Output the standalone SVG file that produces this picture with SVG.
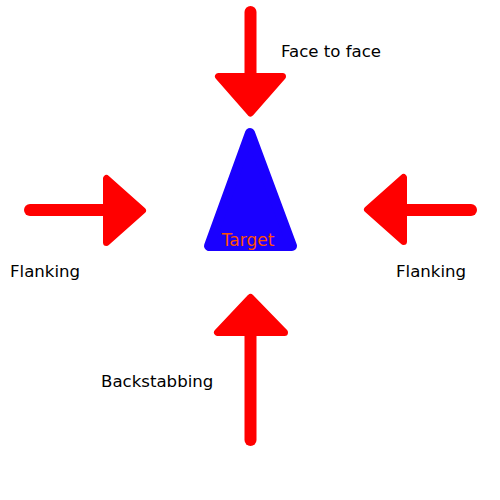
<svg xmlns="http://www.w3.org/2000/svg" width="500" height="500" viewBox="0 0 500 500">
<style>
.shaft{stroke:#ff0000;stroke-width:12;stroke-linecap:round;fill:none}
.head{fill:#ff0000;stroke:#ff0000;stroke-width:7;stroke-linejoin:round}
.lbl{font-family:"DejaVu Sans",sans-serif;font-size:16.6px;fill:#000}
.tgt{fill:#1a00ff;stroke:#1a00ff;stroke-width:10;stroke-linejoin:round}
</style>
<rect width="500" height="500" fill="#fff"/>
<g id="connectors">
<g id="arrow-top">
<line class="shaft" x1="250.5" y1="12" x2="250.5" y2="80"/>
<polygon class="head" points="218.5,76.5 282.5,76.5 250.5,113"/>
</g>
<g id="arrow-left">
<line class="shaft" x1="30" y1="210" x2="110" y2="210"/>
<polygon class="head" points="106.5,178.5 106.5,242.5 142.5,210.5"/>
</g>
<g id="arrow-right">
<line class="shaft" x1="471" y1="210" x2="400" y2="210"/>
<polygon class="head" points="403.5,177.5 403.5,241.5 367.5,209.5"/>
</g>
<g id="arrow-bottom">
<line class="shaft" x1="250.5" y1="440" x2="250.5" y2="330"/>
<polygon class="head" points="217.5,332.5 284.5,332.5 250.5,297.5"/>
</g>
</g>
<g id="target">
<polygon class="tgt" points="250,133 209,246 292,246"/>
<text x="248" y="246" text-anchor="middle" font-family="DejaVu Sans, sans-serif" font-size="17" fill="#ff5000">Target</text>
</g>
<g id="labels">
<text class="lbl" x="281" y="57">Face to face</text>
<text class="lbl" x="10" y="277">Flanking</text>
<text class="lbl" x="396" y="277">Flanking</text>
<text class="lbl" x="101" y="387">Backstabbing</text>
</g>
</svg>
